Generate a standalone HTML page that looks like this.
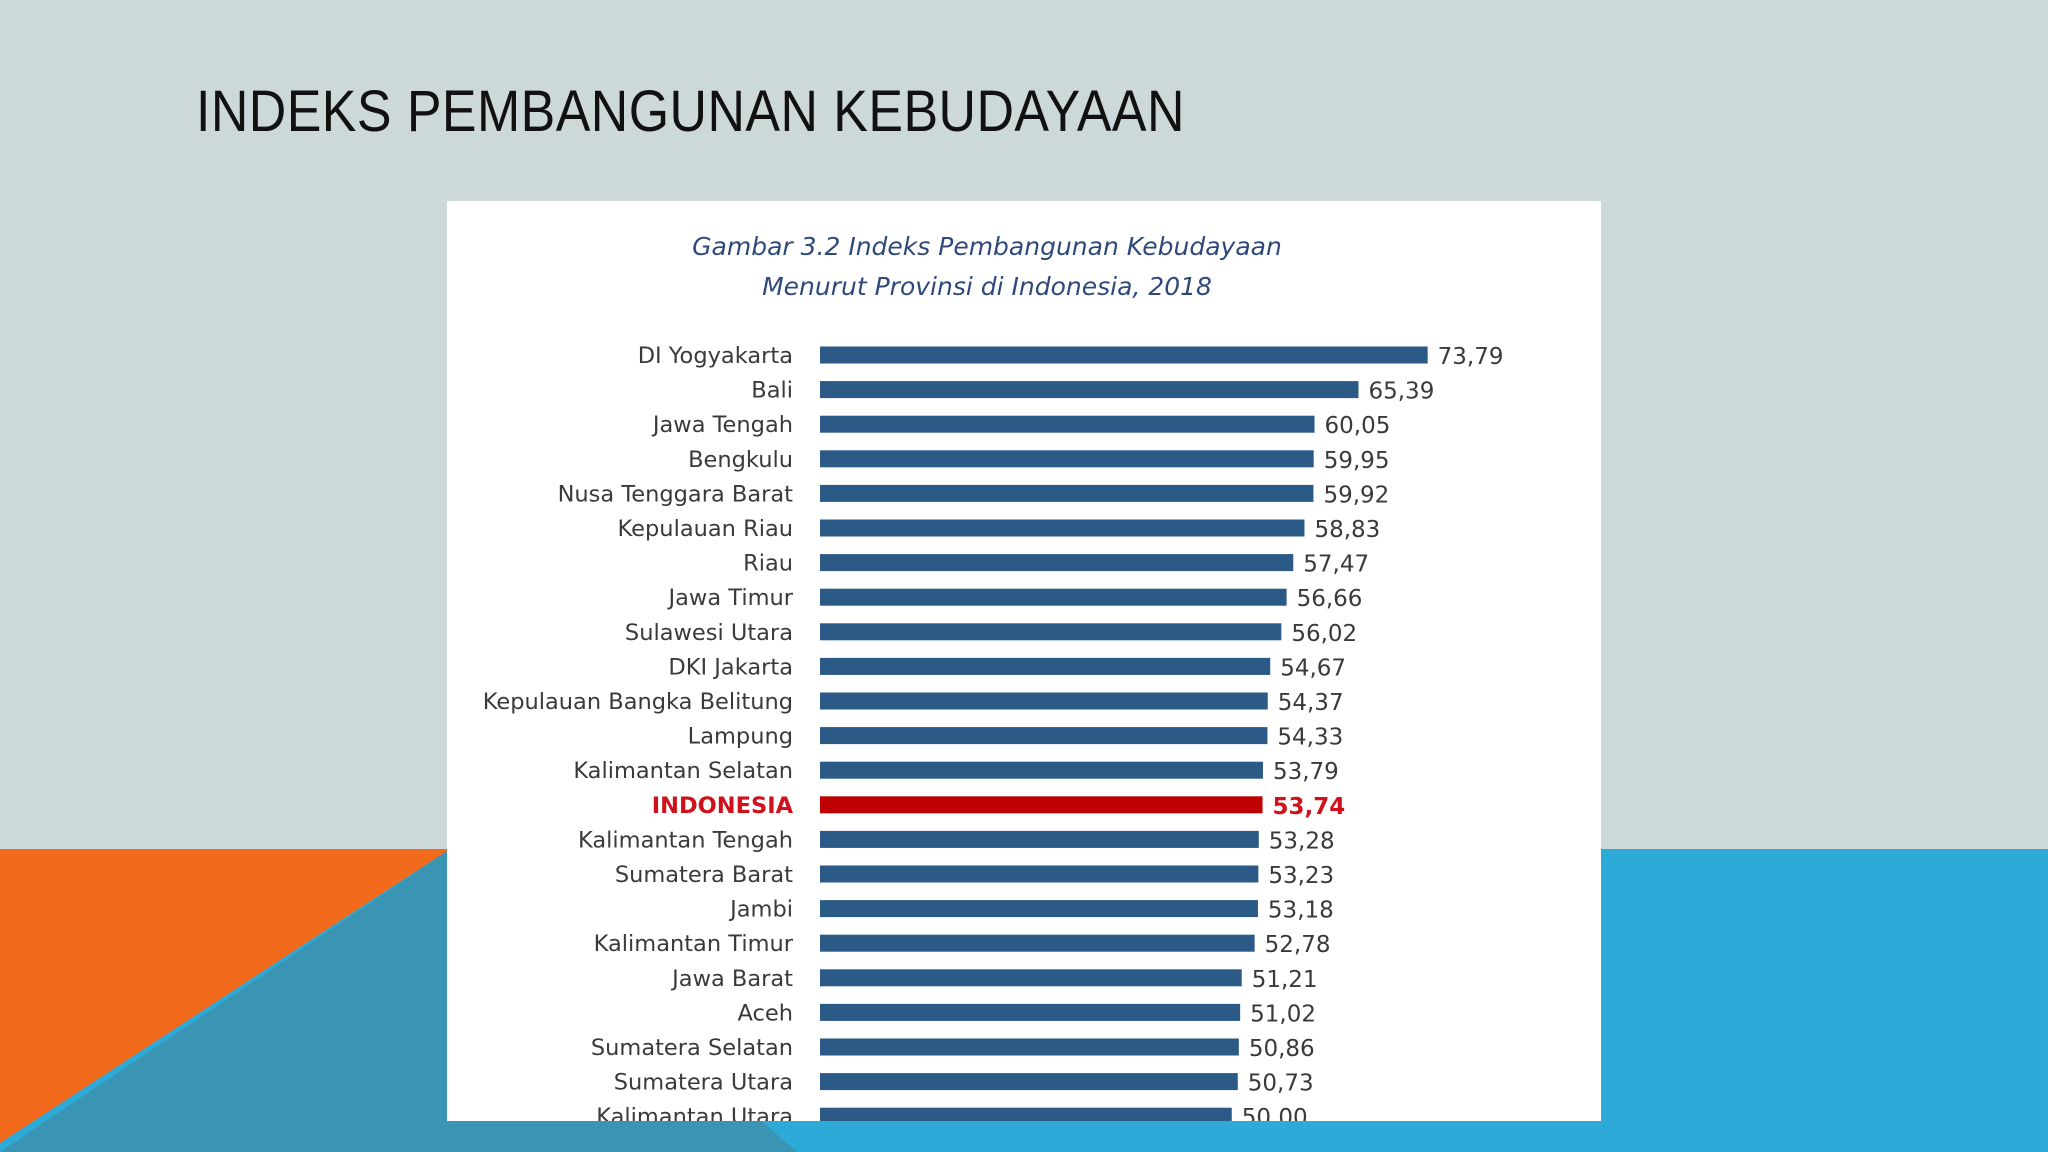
<!DOCTYPE html>
<html><head><meta charset="utf-8"><style>
html,body{margin:0;padding:0}
body{width:2048px;height:1152px;position:relative;overflow:hidden;background:#cdd8d9;font-family:"Liberation Sans",sans-serif}
#title{position:absolute;left:196px;top:78px;font-size:58px;color:#111;letter-spacing:0.5px;white-space:nowrap;transform:scaleX(0.895);transform-origin:0 0}
#panel{position:absolute;left:447px;top:201px;width:1154px;height:920px;background:#fff;overflow:hidden}
</style></head><body>
<svg width="2048" height="1152" style="position:absolute;left:0;top:0">
<rect x="0" y="849" width="2048" height="303" fill="#2eaad9"/>
<polygon points="0,849 450,849 0,1143" fill="#f26b1d"/>
<polygon points="450,849 0,1152 797,1152" fill="#3a95b5"/>
</svg>
<div id="title">INDEKS PEMBANGUNAN KEBUDAYAAN</div>
<div id="panel">
<svg id="chart" width="1154" height="920"></svg>
</div>
<script>
const categories=["DI Yogyakarta","Bali","Jawa Tengah","Bengkulu","Nusa Tenggara Barat","Kepulauan Riau","Riau","Jawa Timur","Sulawesi Utara","DKI Jakarta","Kepulauan Bangka Belitung","Lampung","Kalimantan Selatan","INDONESIA","Kalimantan Tengah","Sumatera Barat","Jambi","Kalimantan Timur","Jawa Barat","Aceh","Sumatera Selatan","Sumatera Utara","Kalimantan Utara"];
const values=[73.79,65.39,60.05,59.95,59.92,58.83,57.47,56.66,56.02,54.67,54.37,54.33,53.79,53.74,53.28,53.23,53.18,52.78,51.21,51.02,50.86,50.73,50.00];
const captionLines=["Gambar 3.2 Indeks Pembangunan Kebudayaan","Menurut Provinsi di Indonesia, 2018"];
const NS="http://www.w3.org/2000/svg";
const svg=document.getElementById('chart');
const x0=373, k=8.235;
const xs=v=>x0+v*k;
const ys=i=>154+i*34.6;
function mk(t,a,txt){const e=document.createElementNS(NS,t);for(const n in a)e.setAttribute(n,a[n]);if(txt!==undefined)e.textContent=txt;svg.appendChild(e);return e;}
captionLines.forEach((l,i)=>{
 const e=mk('text',{x:540,y:54+i*40,'text-anchor':'middle','font-size':25,'font-style':'italic',fill:'#2f4a7a','font-family':'"DejaVu Sans","Liberation Sans",sans-serif'},l);
 
 
});
categories.forEach((c,i)=>{
 const red=c==="INDONESIA";
 const y=ys(i);
 const lab=mk('text',{x:346,y:y+8,'text-anchor':'end','font-size':22.5,fill:red?'#d0101a':'#3a3a3a','font-weight':red?'bold':'normal','font-family':'"DejaVu Sans","Liberation Sans",sans-serif'},c);
 
 
 const b=mk('rect',{x:xs(0),y:y-8.5,width:xs(values[i])-xs(0),height:17,fill:red?'#c00000':'#2a5a85'});
 
 
 const v=mk('text',{x:xs(values[i])+10,y:y+9,'font-size':23,fill:red?'#d0101a':'#3a3a3a','font-weight':red?'bold':'normal','font-family':'"DejaVu Sans","Liberation Sans",sans-serif'},values[i].toFixed(2).replace('.',','));
 
 
});
</script>
</body></html>
